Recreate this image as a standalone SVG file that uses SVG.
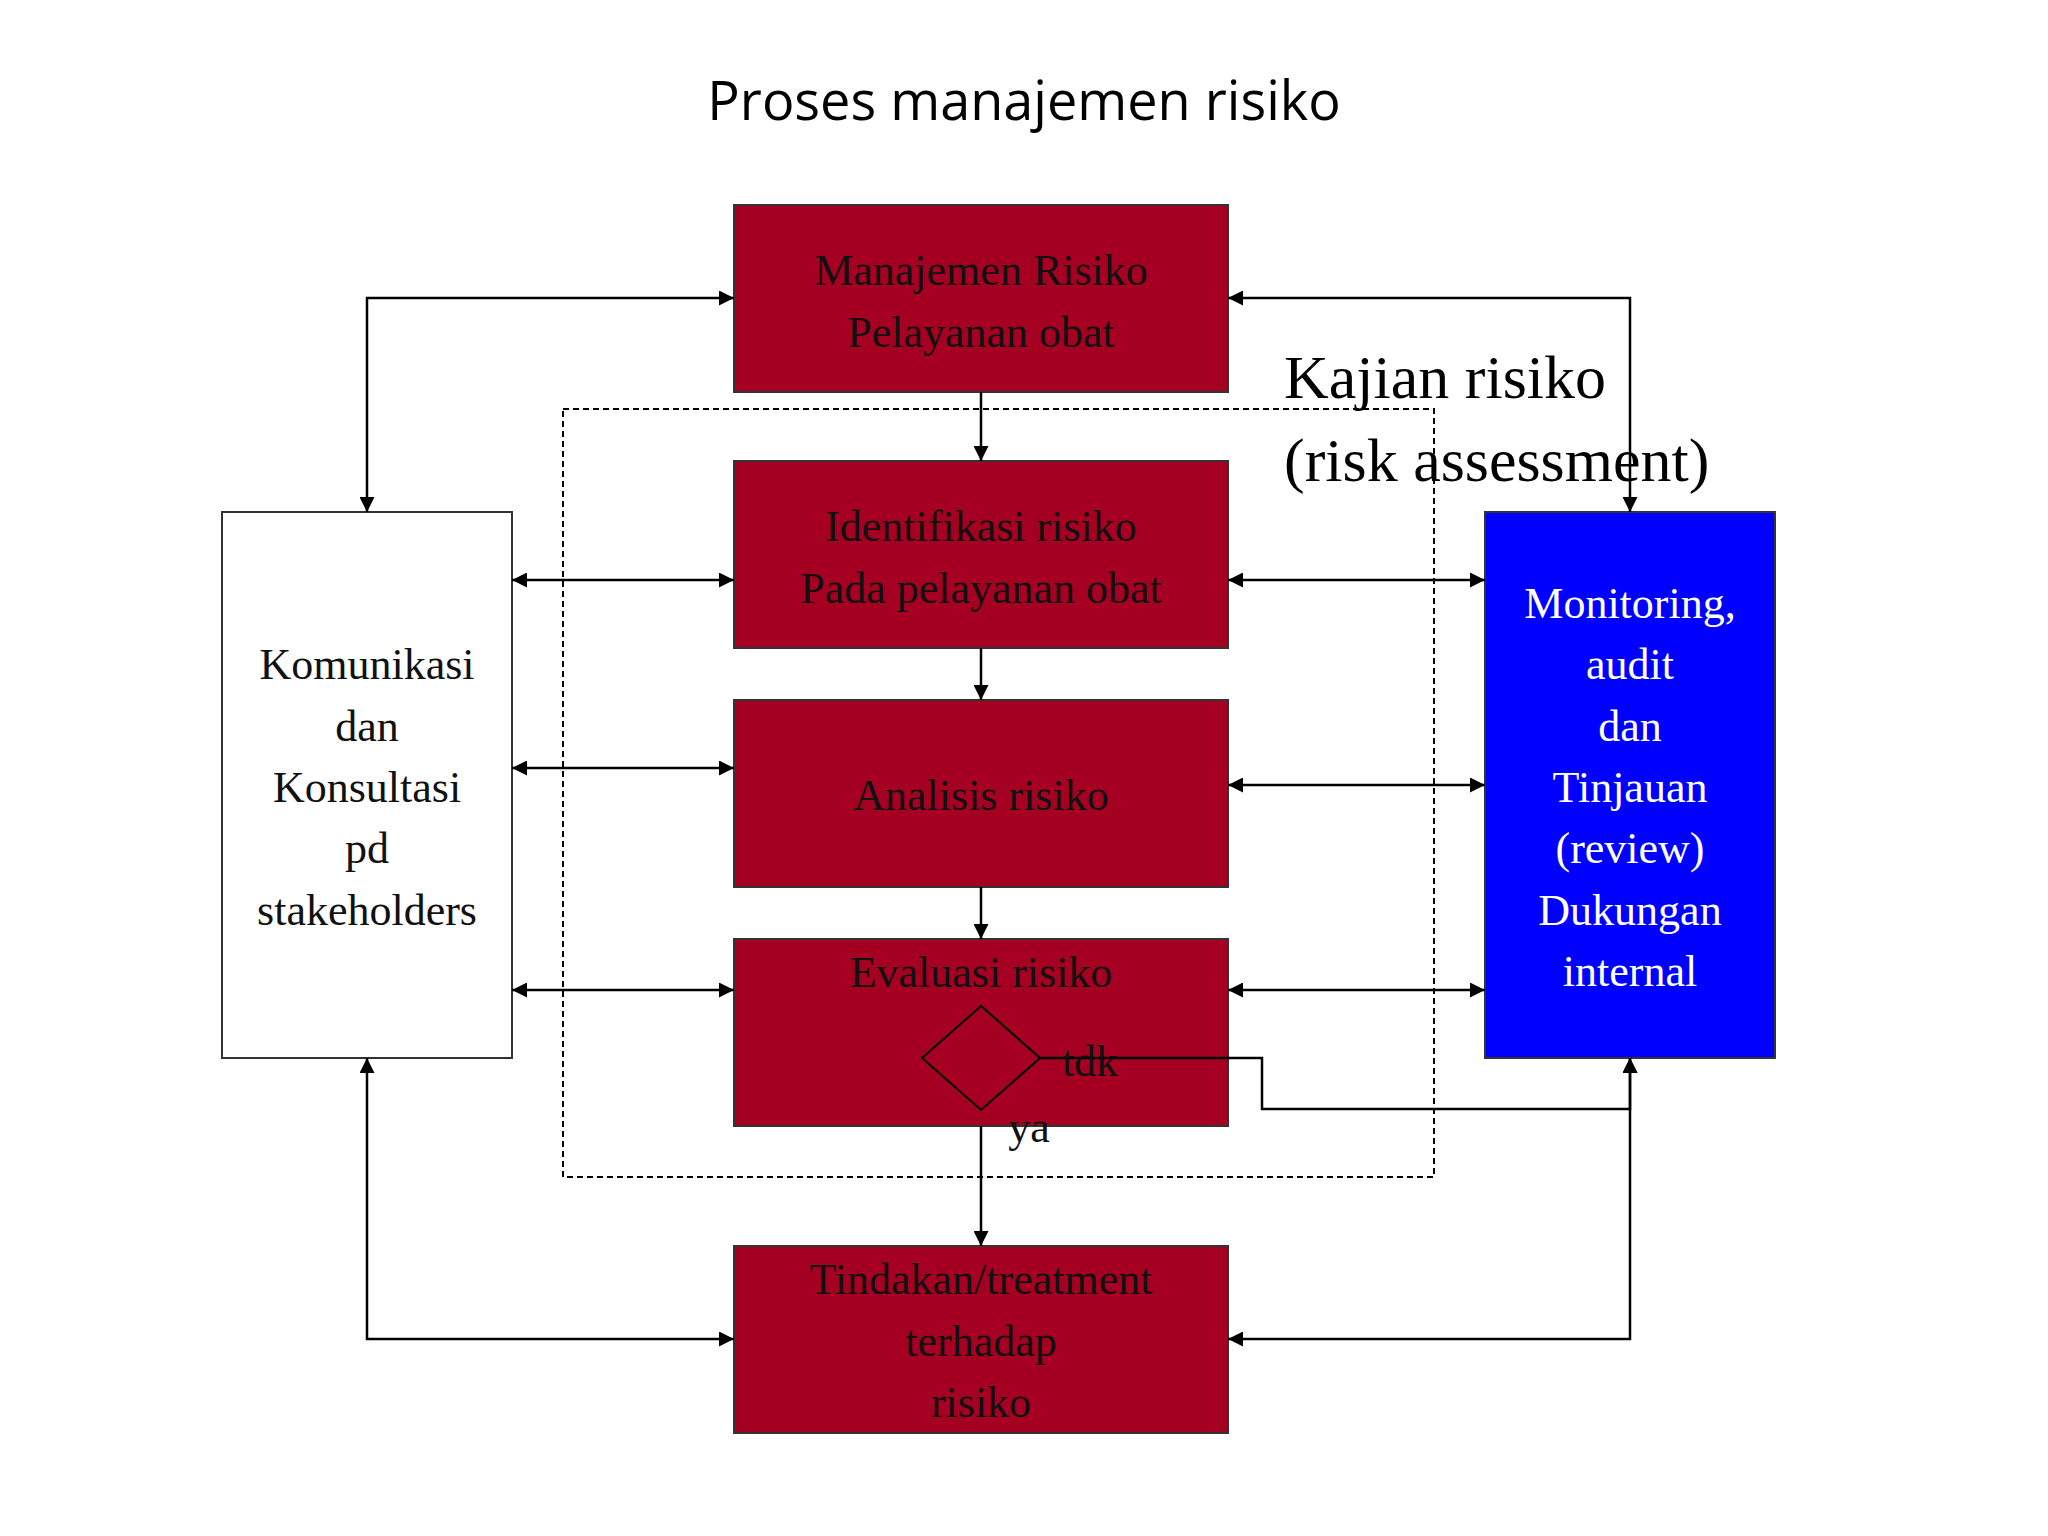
<svg xmlns="http://www.w3.org/2000/svg" width="2048" height="1536" viewBox="0 0 2048 1536">
<style>
.r{fill:#A50021;stroke:#333;stroke-width:2}
.t{font-family:"Liberation Serif",serif;font-size:44px;text-anchor:middle;fill:#111}
.w{fill:#fff}
.c{fill:none;stroke:#000;stroke-width:2.5}
</style>
<defs><marker id="a" viewBox="0 0 10 10" refX="10" refY="5" markerWidth="6" markerHeight="6" orient="auto-start-reverse"><path d="M0,0L10,5L0,10z" fill="#000"/></marker></defs>
<rect width="2048" height="1536" fill="#fff"/>
<text x="1024" y="120" font-family="Open Sans,sans-serif" font-size="54" text-anchor="middle">Proses manajemen risiko</text>
<rect x="563" y="409" width="871" height="768" fill="none" stroke="#000" stroke-width="2" stroke-dasharray="6,4"/>
<text x="1284" y="398" font-family="Liberation Serif,serif" font-size="62">Kajian risiko</text>
<text x="1284" y="481" font-family="Liberation Serif,serif" font-size="62">(risk assessment)</text>
<g id="n1"><rect class="r" x="734" y="205" width="494" height="187"/><text class="t" x="981" y="285">Manajemen Risiko</text><text class="t" x="981" y="347">Pelayanan obat</text></g>
<g id="n2"><rect class="r" x="734" y="461" width="494" height="187"/><text class="t" x="981" y="541">Identifikasi risiko</text><text class="t" x="981" y="603">Pada pelayanan obat</text></g>
<g id="n3"><rect class="r" x="734" y="700" width="494" height="187"/><text class="t" x="981" y="810">Analisis risiko</text></g>
<g id="n4"><rect class="r" x="734" y="939" width="494" height="187"/><text class="t" x="981" y="987">Evaluasi risiko</text><path d="M981,1006L1040,1058L981,1110L922,1058z" fill="none" stroke="#000" stroke-width="2"/></g>
<g id="n5"><rect class="r" x="734" y="1246" width="494" height="187"/><text class="t" x="981" y="1294">Tindakan/treatment</text><text class="t" x="981" y="1356">terhadap</text><text class="t" x="981" y="1417">risiko</text></g>
<g id="n6"><rect x="222" y="512" width="290" height="546" fill="#fff" stroke="#333" stroke-width="2"/><text class="t" x="367" y="679">Komunikasi</text><text class="t" x="367" y="741">dan</text><text class="t" x="367" y="802">Konsultasi</text><text class="t" x="367" y="863">pd</text><text class="t" x="367" y="925">stakeholders</text></g>
<g id="n7"><rect x="1485" y="512" width="290" height="546" fill="#0000FF" stroke="#333" stroke-width="2"/><text class="t w" x="1630" y="618">Monitoring,</text><text class="t w" x="1630" y="679">audit</text><text class="t w" x="1630" y="741">dan</text><text class="t w" x="1630" y="802">Tinjauan</text><text class="t w" x="1630" y="863">(review)</text><text class="t w" x="1630" y="925">Dukungan</text><text class="t w" x="1630" y="986">internal</text></g>
<g id="connectors">
<path class="c" d="M981,392V461" marker-end="url(#a)"/>
<path class="c" d="M981,648V700" marker-end="url(#a)"/>
<path class="c" d="M981,887V939" marker-end="url(#a)"/>
<path class="c" d="M981,1126V1246" marker-end="url(#a)"/>
<path class="c" d="M367,512V298H734" marker-start="url(#a)" marker-end="url(#a)"/>
<path class="c" d="M1630,512V298H1228" marker-start="url(#a)" marker-end="url(#a)"/>
<path class="c" d="M367,1058V1339H734" marker-start="url(#a)" marker-end="url(#a)"/>
<path class="c" d="M1630,1058V1339H1228" marker-start="url(#a)" marker-end="url(#a)"/>
<path class="c" d="M512,580H734" marker-start="url(#a)" marker-end="url(#a)"/>
<path class="c" d="M512,768H734" marker-start="url(#a)" marker-end="url(#a)"/>
<path class="c" d="M512,990H734" marker-start="url(#a)" marker-end="url(#a)"/>
<path class="c" d="M1228,580H1485" marker-start="url(#a)" marker-end="url(#a)"/>
<path class="c" d="M1228,785H1485" marker-start="url(#a)" marker-end="url(#a)"/>
<path class="c" d="M1228,990H1485" marker-start="url(#a)" marker-end="url(#a)"/>
<path class="c" d="M1040,1058H1262V1109H1630V1058" marker-end="url(#a)"/>
<text class="t" x="1090" y="1076">tdk</text>
<text class="t" x="1029" y="1142">ya</text>
</g>
</svg>
